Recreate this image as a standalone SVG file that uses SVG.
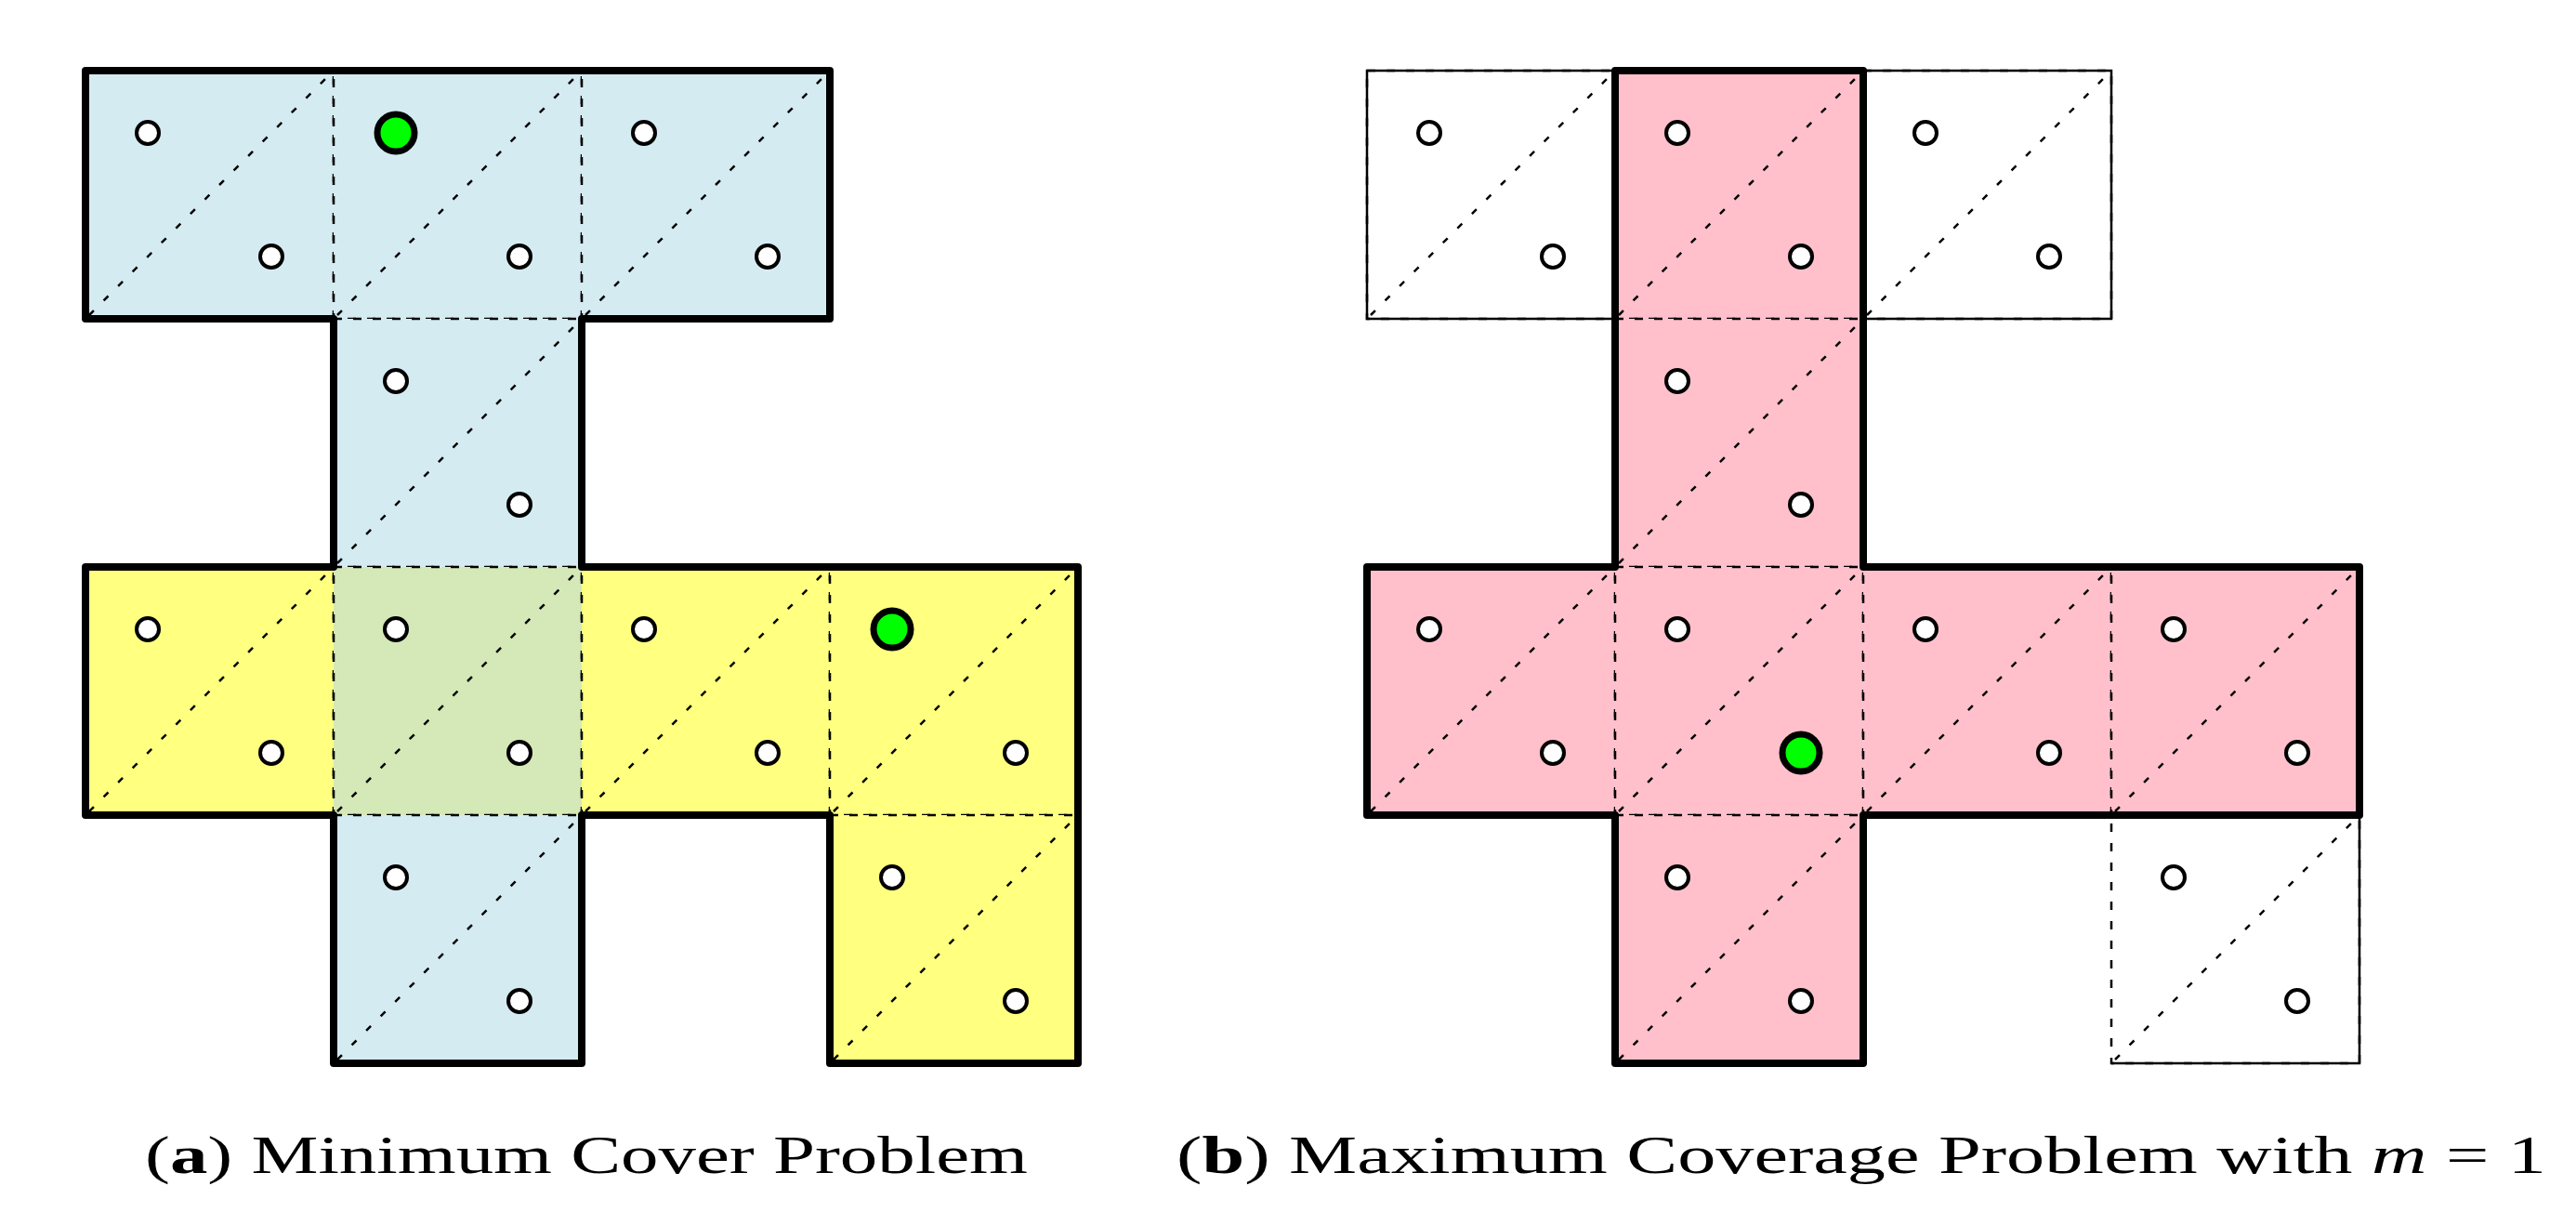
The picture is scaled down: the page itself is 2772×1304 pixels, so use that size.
<svg xmlns="http://www.w3.org/2000/svg" width="2772" height="1304" viewBox="0 0 2772 1304">
<style>
.c{stroke:#000;stroke-width:2.5;stroke-dasharray:9 12}
.b{fill:#d4ebf1}.y{fill:#ffff80}.g{fill:#d5e8b7}.p{fill:#ffc0cb}.w{fill:#fff}
.d{stroke:#000;stroke-width:2.5;stroke-dasharray:7 15;fill:none}
.o{fill:none;stroke:#000;stroke-width:8;stroke-linejoin:round}
.t{fill:none;stroke:#000;stroke-width:2.5}
.pt{fill:#fff;stroke:#000;stroke-width:4}
.gr{fill:#00ff00;stroke:#000;stroke-width:7}
text{font-family:"Liberation Serif",serif;font-size:58px}
</style>
<defs>
<g id="cell">
<path class="d" d="M4 263L263 4"/>
<circle class="pt" cx="67" cy="67" r="12"/>
<circle class="pt" cx="200" cy="200" r="12"/>
</g>
</defs>
<g id="figA">
<rect class="c b" x="92" y="76" width="267" height="267"/>
<rect class="c b" x="359" y="76" width="267" height="267"/>
<rect class="c b" x="626" y="76" width="267" height="267"/>
<rect class="c b" x="359" y="343" width="267" height="267"/>
<rect class="c y" x="92" y="610" width="267" height="267"/>
<rect class="c g" x="359" y="610" width="267" height="267"/>
<rect class="c y" x="626" y="610" width="267" height="267"/>
<rect class="c y" x="893" y="610" width="267" height="267"/>
<rect class="c b" x="359" y="877" width="267" height="267"/>
<rect class="c y" x="893" y="877" width="267" height="267"/>
<use href="#cell" x="92" y="76"/><use href="#cell" x="359" y="76"/><use href="#cell" x="626" y="76"/>
<use href="#cell" x="359" y="343"/>
<use href="#cell" x="92" y="610"/><use href="#cell" x="359" y="610"/><use href="#cell" x="626" y="610"/><use href="#cell" x="893" y="610"/>
<use href="#cell" x="359" y="877"/><use href="#cell" x="893" y="877"/>
<path class="o" d="M92 76H893V343H626V610H1160V1144H893V877H626V1144H359V877H92V610H359V343H92Z"/>
<circle class="gr" cx="426" cy="143" r="20"/>
<circle class="gr" cx="960" cy="677" r="20"/>
</g>
<g id="figB">
<rect class="c w" x="1471" y="76" width="267" height="267"/>
<rect class="c p" x="1738" y="76" width="267" height="267"/>
<rect class="c w" x="2005" y="76" width="267" height="267"/>
<rect class="c p" x="1738" y="343" width="267" height="267"/>
<rect class="c p" x="1471" y="610" width="267" height="267"/>
<rect class="c p" x="1738" y="610" width="267" height="267"/>
<rect class="c p" x="2005" y="610" width="267" height="267"/>
<rect class="c p" x="2272" y="610" width="267" height="267"/>
<rect class="c p" x="1738" y="877" width="267" height="267"/>
<rect class="c w" x="2272" y="877" width="267" height="267"/>
<use href="#cell" x="1471" y="76"/><use href="#cell" x="1738" y="76"/><use href="#cell" x="2005" y="76"/>
<use href="#cell" x="1738" y="343"/>
<use href="#cell" x="1471" y="610"/><use href="#cell" x="1738" y="610"/><use href="#cell" x="2005" y="610"/><use href="#cell" x="2272" y="610"/>
<use href="#cell" x="1738" y="877"/><use href="#cell" x="2272" y="877"/>
<path class="t" d="M1738 76H1471V343H1738M2005 76H2272V343H2005M2272 877H2539V1144H2272"/>
<path class="o" d="M1738 76H2005V610H2539V877H2005V1144H1738V877H1471V610H1738Z"/>
<circle class="gr" cx="1938" cy="810" r="20"/>
</g>
<g id="captions">
<text x="156" y="1262" textLength="950" lengthAdjust="spacingAndGlyphs">(<tspan font-weight="bold">a</tspan>) Minimum Cover Problem</text>
<text x="1266" y="1262" textLength="1474" lengthAdjust="spacingAndGlyphs">(<tspan font-weight="bold">b</tspan>) Maximum Coverage Problem with <tspan font-style="italic">m</tspan> = 1</text>
</g>
</svg>
